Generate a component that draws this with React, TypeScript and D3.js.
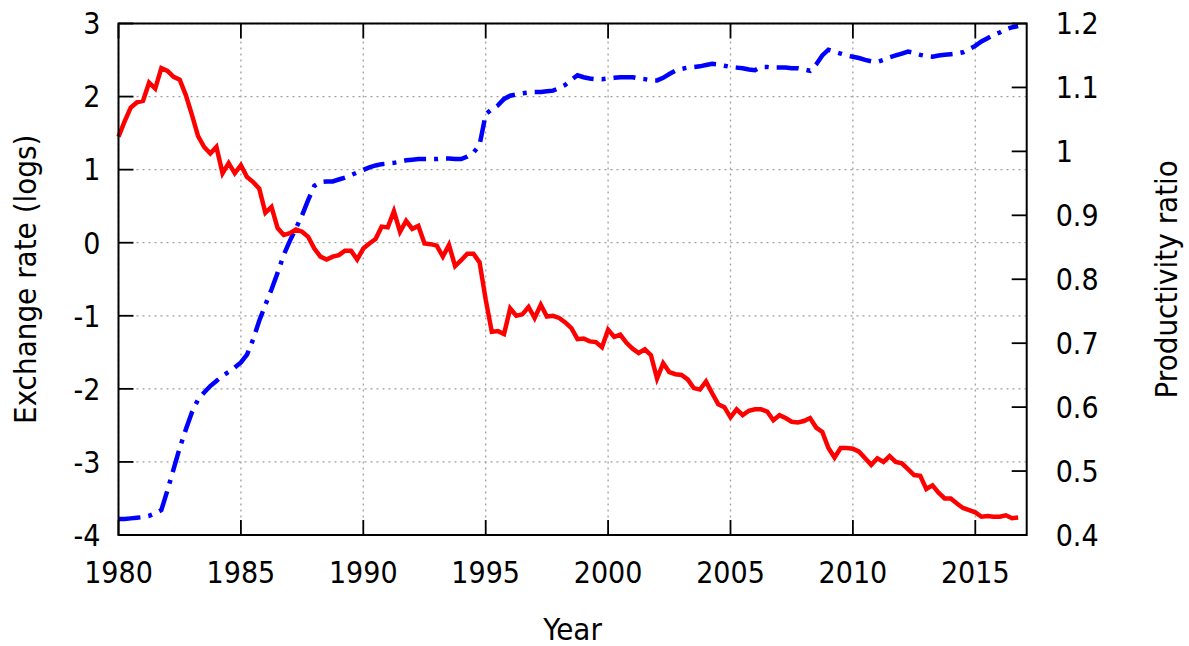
import { useEffect, useRef } from 'react'
import * as d3 from 'd3'

// quarterly data, 1980Q1 .. 2016Q4
const startYear = 1980

// exchange rate (logs), left axis
const exchangeRate = [
  1.45, 1.66, 1.85, 1.92, 1.94, 2.19, 2.11, 2.39,
  2.35, 2.27, 2.23, 2.02, 1.75, 1.46, 1.31, 1.22,
  1.31, 0.95, 1.09, 0.95, 1.06, 0.9, 0.83, 0.74,
  0.41, 0.49, 0.2, 0.105, 0.13, 0.18, 0.15, 0.08,
  -0.08, -0.19, -0.23, -0.19, -0.17, -0.11, -0.11, -0.23,
  -0.08, -0.01, 0.05, 0.22, 0.21, 0.43, 0.15, 0.3,
  0.19, 0.23, -0.01, -0.02, -0.04, -0.19, -0.03, -0.32,
  -0.24, -0.15, -0.15, -0.27, -0.78, -1.22, -1.21, -1.25,
  -0.9, -1.0, -0.98, -0.88, -1.03, -0.85, -1.01, -1.0,
  -1.03, -1.09, -1.17, -1.32, -1.31, -1.35, -1.36, -1.43,
  -1.19, -1.29, -1.26, -1.37, -1.45, -1.51, -1.46, -1.54,
  -1.86, -1.65, -1.77, -1.8, -1.81, -1.87, -1.99, -2.01,
  -1.9, -2.06, -2.21, -2.25, -2.39, -2.28, -2.36, -2.3,
  -2.28, -2.28, -2.31, -2.43, -2.36, -2.4, -2.45, -2.46,
  -2.44, -2.4, -2.53, -2.59, -2.81, -2.94, -2.81, -2.81,
  -2.82, -2.86, -2.95, -3.04, -2.95, -3.0, -2.92, -3.0,
  -3.02, -3.1, -3.18, -3.19, -3.37, -3.32, -3.42, -3.5,
  -3.5, -3.57, -3.63, -3.66, -3.69, -3.75, -3.74, -3.75,
  -3.75, -3.73, -3.77, -3.76,
]

// productivity ratio, right axis
const productivity = [
  0.425, 0.425, 0.426, 0.427, 0.428, 0.43, 0.434, 0.439,
  0.47, 0.503, 0.536, 0.565, 0.592, 0.612, 0.623, 0.633,
  0.641, 0.649, 0.655, 0.662, 0.67, 0.682, 0.706, 0.735,
  0.76, 0.784, 0.81, 0.838, 0.86, 0.88, 0.9, 0.924,
  0.946, 0.952, 0.953, 0.953, 0.956, 0.959, 0.963, 0.967,
  0.971, 0.975, 0.978, 0.98, 0.981, 0.982, 0.984, 0.986,
  0.987, 0.988, 0.988, 0.988, 0.988, 0.989, 0.989, 0.988,
  0.988, 0.992, 0.998, 1.01, 1.058, 1.066, 1.072, 1.082,
  1.087, 1.089, 1.091, 1.092, 1.093, 1.093, 1.094, 1.095,
  1.099, 1.104, 1.112, 1.119, 1.116, 1.114, 1.113, 1.113,
  1.114, 1.115, 1.116, 1.116, 1.116, 1.114, 1.113, 1.111,
  1.111, 1.115, 1.121, 1.126, 1.129, 1.131, 1.132, 1.133,
  1.135, 1.137, 1.136, 1.134, 1.132, 1.131, 1.13, 1.128,
  1.127, 1.132, 1.132, 1.131, 1.131, 1.131, 1.13, 1.13,
  1.128, 1.126, 1.136, 1.15, 1.159, 1.156, 1.153, 1.15,
  1.148, 1.146, 1.143, 1.141, 1.14, 1.143, 1.147, 1.15,
  1.153, 1.156, 1.154, 1.151, 1.149, 1.148, 1.15, 1.151,
  1.152, 1.153, 1.155, 1.16, 1.165, 1.172, 1.177, 1.182,
  1.186, 1.191, 1.194, 1.196,
]

const xTicks = [1980, 1985, 1990, 1995, 2000, 2005, 2010, 2015]
const yLeftTicks = [-4, -3, -2, -1, 0, 1, 2, 3]
const yRightTicks = [0.4, 0.5, 0.6, 0.7, 0.8, 0.9, 1.0, 1.1, 1.2]

export default function App() {
  const svgRef = useRef<SVGSVGElement>(null)

  useEffect(() => {
    if (!svgRef.current) return
    document.body.style.margin = '0'

    const svg = d3.select(svgRef.current)
    svg.selectAll('*').remove()

    const margin = { top: 23.5, right: 162.3, bottom: 111, left: 118.5 }
    const width = 1189 - margin.left - margin.right
    const height = 646 - margin.top - margin.bottom
    const font = '"DejaVu Sans Condensed", "DejaVu Sans", sans-serif'

    const g = svg.append('g').attr('transform', `translate(${margin.left},${margin.top})`)

    const x = d3.scaleLinear().domain([1980, 2017.1]).range([0, width])
    const yL = d3.scaleLinear().domain([-4, 3]).range([height, 0])
    const yR = d3.scaleLinear().domain([0.4, 1.2]).range([height, 0])

    // grid
    const grid = g.append('g')
      .attr('stroke', '#a0a0a0')
      .attr('stroke-width', 1.3)
      .attr('stroke-dasharray', '2,4')
    xTicks.forEach(t => {
      grid.append('line').attr('x1', x(t)).attr('x2', x(t)).attr('y1', 0).attr('y2', height)
    })
    yLeftTicks.forEach(t => {
      grid.append('line').attr('x1', 0).attr('x2', width).attr('y1', yL(t)).attr('y2', yL(t))
    })

    const dates = exchangeRate.map((_d, i) => startYear + i / 4)

    // productivity ratio (blue, dash-dot)
    const blueLine = d3.line<number>()
      .x((_d, i) => x(dates[i]))
      .y(d => yR(d))
    g.append('path')
      .datum(productivity)
      .attr('fill', 'none')
      .attr('stroke', '#0000ff')
      .attr('stroke-width', 4.5)
      .attr('stroke-dasharray', '22,8,4,8')
      .attr('d', blueLine)

    // exchange rate (red, solid)
    const redLine = d3.line<number>()
      .x((_d, i) => x(dates[i]))
      .y(d => yL(d))
    g.append('path')
      .datum(exchangeRate)
      .attr('fill', 'none')
      .attr('stroke', '#ff0000')
      .attr('stroke-width', 4.5)
      .attr('stroke-linejoin', 'miter')
      .attr('d', redLine)

    // ticks (inward, mirrored on top for x)
    const tickLen = 15
    const ticks = g.append('g').attr('stroke', '#000').attr('stroke-width', 1.8)
    xTicks.forEach(t => {
      ticks.append('line').attr('x1', x(t)).attr('x2', x(t)).attr('y1', height).attr('y2', height - tickLen)
      ticks.append('line').attr('x1', x(t)).attr('x2', x(t)).attr('y1', 0).attr('y2', tickLen)
    })
    yLeftTicks.forEach(t => {
      ticks.append('line').attr('x1', 0).attr('x2', tickLen).attr('y1', yL(t)).attr('y2', yL(t))
    })
    yRightTicks.forEach(t => {
      ticks.append('line').attr('x1', width).attr('x2', width - tickLen).attr('y1', yR(t)).attr('y2', yR(t))
    })

    // frame
    g.append('rect')
      .attr('width', width)
      .attr('height', height)
      .attr('fill', 'none')
      .attr('stroke', '#000')
      .attr('stroke-width', 2)

    // tick labels
    const labels = g.append('g')
      .attr('font-family', font)
      .attr('font-size', 30)
      .attr('fill', '#000')
    xTicks.forEach(t => {
      labels.append('text')
        .attr('x', x(t))
        .attr('y', height + 48)
        .attr('text-anchor', 'middle')
        .text(String(t))
    })
    yLeftTicks.forEach(t => {
      labels.append('text')
        .attr('x', -18)
        .attr('y', yL(t))
        .attr('dy', '0.36em')
        .attr('text-anchor', 'end')
        .text(String(t))
    })
    yRightTicks.forEach(t => {
      labels.append('text')
        .attr('x', width + 29)
        .attr('y', yR(t))
        .attr('dy', '0.36em')
        .attr('text-anchor', 'start')
        .text(String(Math.round(t * 10) / 10))
    })

    // axis titles
    svg.append('text')
      .attr('x', margin.left + width / 2)
      .attr('y', 640)
      .attr('text-anchor', 'middle')
      .attr('font-family', font)
      .attr('font-size', 31)
      .text('Year')

    svg.append('text')
      .attr('transform', `translate(36,${margin.top + height / 2}) rotate(-90)`)
      .attr('text-anchor', 'middle')
      .attr('font-family', font)
      .attr('font-size', 31)
      .text('Exchange rate (logs)')

    svg.append('text')
      .attr('transform', `translate(1177,${margin.top + height / 2}) rotate(-90)`)
      .attr('text-anchor', 'middle')
      .attr('font-family', font)
      .attr('font-size', 31)
      .text('Productivity ratio')
  }, [])

  return <svg ref={svgRef} width={1189} height={646} style={{ display: 'block', background: '#fff' }} />
}
